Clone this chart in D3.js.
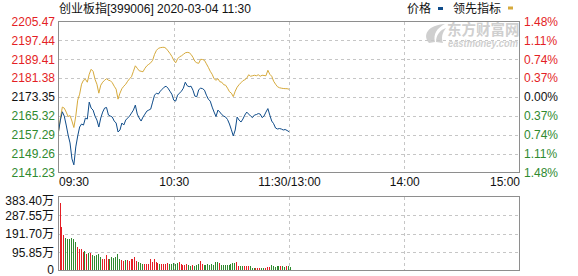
<!DOCTYPE html>
<html>
<head>
<meta charset="utf-8">
<script src="https://cdn.jsdelivr.net/npm/d3@7"></script>
<style>
  body { margin: 0; background: #fff; }
  svg text { font-family: "Liberation Sans", Arial, "Noto Sans CJK SC", sans-serif; font-size: 12px; }
</style>
</head>
<body>
<svg id="chart" width="578" height="276"></svg>
<script>
// 创业板指 intraday, morning session 2020-03-04
var title = "创业板指[399006] 2020-03-04 11:30";
var prevClose = 2173.35;
var priceTicks = [2205.47, 2197.44, 2189.41, 2181.38, 2173.35, 2165.32, 2157.29, 2149.26, 2141.23];
var pctTicks = [1.48, 1.11, 0.74, 0.37, 0, -0.37, -0.74, -1.11, -1.48];
var volTicks = [383.40, 287.55, 191.70, 95.85, 0];
var timeTicks = [0, 60, 120, 180, 240];
var timeLabels = ["09:30", "10:30", "11:30/13:00", "14:00", "15:00"];

var price = [
  2158.59, 2163.54, 2167.06, 2165.24, 2161.43, 2157.19, 2153.80, 2147.03, 2144.49, 2152.11,
  2156.77, 2160.58, 2161.85, 2161.40, 2164.39, 2163.97, 2171.17, 2168.63, 2167.78, 2165.24,
  2163.54, 2160.58, 2164.39, 2166.93, 2168.63, 2168.90, 2165.66, 2165.24, 2164.81, 2163.12,
  2162.27, 2158.46, 2159.31, 2162.27, 2161.43, 2163.54, 2164.39, 2165.24, 2166.51, 2167.78,
  2169.90, 2166.08, 2164.39, 2163.12, 2164.81, 2166.08, 2167.35, 2167.78, 2168.20, 2171.17,
  2174.13, 2174.98, 2174.60, 2175.82, 2176.67, 2177.52, 2177.94, 2177.10, 2175.82, 2174.55,
  2172.01, 2171.60, 2174.13, 2174.98, 2175.82, 2177.10, 2179.64, 2178.15, 2177.73, 2177.94,
  2176.25, 2173.71, 2173.50, 2176.46, 2177.10, 2176.90, 2176.25, 2174.13, 2172.44, 2171.59,
  2169.05, 2166.93, 2165.03, 2167.78, 2166.93, 2165.87, 2165.24, 2164.81, 2163.76, 2161.85,
  2159.40, 2156.77, 2159.31, 2164.81, 2163.54, 2162.70, 2163.97, 2165.66, 2166.93, 2166.08,
  2165.24, 2164.60, 2165.66, 2165.87, 2166.30, 2166.08, 2164.60, 2165.24, 2166.93, 2168.42,
  2165.66, 2163.12, 2162.00, 2160.15, 2159.73, 2159.94, 2159.73, 2159.31, 2159.52, 2159.10,
  2158.59
];

var leading = [
  2158.46, 2164.39, 2169.05, 2168.63, 2166.93, 2165.03, 2165.45, 2163.12, 2160.37, 2165.24,
  2172.01, 2174.55, 2178.79, 2180.48, 2180.91, 2179.64, 2183.02, 2185.14, 2184.29, 2180.91,
  2178.79, 2174.98, 2178.37, 2179.64, 2180.48, 2181.12, 2180.48, 2180.27, 2179.42, 2177.94,
  2176.67, 2172.44, 2174.98, 2176.88, 2177.94, 2178.79, 2180.06, 2181.12, 2181.97, 2184.29,
  2186.62, 2185.57, 2184.51, 2184.29, 2184.10, 2185.57, 2186.62, 2187.26, 2187.89, 2188.95,
  2191.49, 2193.19, 2194.04, 2194.33, 2194.46, 2194.50, 2194.04, 2192.98, 2191.92, 2190.65,
  2188.95, 2187.89, 2189.59, 2190.44, 2190.86, 2191.49, 2192.13, 2192.34, 2192.21, 2191.49,
  2190.22, 2188.53, 2187.89, 2187.68, 2189.38, 2189.30, 2188.95, 2187.47, 2185.99, 2184.29,
  2183.02, 2181.12, 2180.48, 2181.12, 2179.85, 2179.64, 2178.58, 2178.37, 2177.10, 2175.61,
  2174.98, 2173.50, 2175.82, 2177.52, 2178.58, 2179.42, 2180.27, 2180.70, 2181.33, 2182.81,
  2182.18, 2182.39, 2182.60, 2182.39, 2182.81, 2182.18, 2182.60, 2182.50, 2182.39, 2184.72,
  2183.02, 2182.18, 2180.06, 2178.79, 2177.73, 2177.31, 2177.10, 2176.97, 2176.90, 2176.88,
  2176.67
];

// 成交量, 万
var volume = [
  352, 227, 182, 166, 161, 161, 166, 161, 149, 123,
  109, 109, 97, 100, 83, 92, 89, 80, 74, 80,
  87, 72, 62, 62, 78, 62, 62, 70, 66, 72,
  83, 60, 52, 48, 52, 52, 48, 57, 57, 72,
  48, 45, 38, 36, 36, 36, 36, 57, 45, 57,
  45, 40, 36, 36, 36, 36, 38, 36, 36, 38,
  35, 40, 43, 35, 30, 26, 35, 30, 23, 26,
  24, 30, 35, 47, 35, 30, 28, 35, 30, 35,
  30, 42, 42, 40, 26, 26, 26, 26, 30, 35,
  37, 40, 42, 23, 21, 21, 21, 21, 21, 23,
  12, 12, 14, 14, 12, 12, 14, 14, 17, 17,
  26, 21, 17, 21, 24, 21, 21, 17, 21, 21,
  17
];

var red = "#e41e25", green = "#2f8a2f", black = "#111",
    blue = "#0f4c8a", gold = "#d6aa3c",
    border = "#8e8e8e", grid = "#c6c6c6";

var plotL = 58.5, plotR = 519.5,
    plotT = 21.5, plotB = 172.5,
    volT = 196.5, volB = 270.5;

var svg = d3.select("#chart");

var x = d3.scaleLinear().domain([0, 240]).range([plotL, plotR]);
var y = d3.scaleLinear().domain([priceTicks[8], priceTicks[0]]).range([plotB, plotT]);
var yPct = d3.scaleLinear().domain([-1.48, 1.48]).range([plotB, plotT]);
var yVol = d3.scaleLinear().domain([0, volTicks[0]]).range([volB, volT]);

function colorOf(d, mid) { return d > mid ? red : d < mid ? green : black; }

// watermark
var wm = svg.append("g").attr("fill", "#cfcfcf");
wm.append("path")
    .attr("d", "M429,43 C422,35 428,25 445,24 C437,28 433,34 435,42 Z M436,42 C436,35 440,30 446,28 C442,33 441,38 443,43 Z");
wm.append("text").attr("x", 447).attr("y", 35)
    .style("font-size", "14.5px").style("font-weight", "bold")
    .text("东方财富网");
wm.append("text").attr("x", 448).attr("y", 47)
    .attr("textLength", 70).attr("lengthAdjust", "spacingAndGlyphs")
    .style("font-size", "10px").style("font-weight", "bold").style("font-style", "italic")
    .text("eastmoney.com");

// grid
var g = svg.append("g")
    .attr("stroke", grid).attr("stroke-dasharray", "3,3").attr("shape-rendering", "crispEdges");
g.selectAll(".hp").data(priceTicks.slice(1, -1)).join("line")
    .attr("x1", plotL).attr("x2", plotR)
    .attr("y1", d => Math.round(y(d)) + 0.5).attr("y2", d => Math.round(y(d)) + 0.5);
g.selectAll(".hv").data(volTicks.slice(1, -1)).join("line")
    .attr("x1", plotL).attr("x2", plotR)
    .attr("y1", d => Math.round(yVol(d)) + 0.5).attr("y2", d => Math.round(yVol(d)) + 0.5);
timeTicks.slice(1, -1).forEach(function(t) {
  var px = Math.round(x(t)) + 0.5;
  g.append("line").attr("x1", px).attr("x2", px).attr("y1", plotT).attr("y2", plotB);
  g.append("line").attr("x1", px).attr("x2", px).attr("y1", volT).attr("y2", volB);
});

// price lines
var line = d3.line().x((d, i) => x(i)).y(d => y(d));
svg.append("path").datum(leading)
    .attr("fill", "none").attr("stroke", gold).attr("stroke-width", 1)
    .attr("d", line);
svg.append("path").datum(price)
    .attr("fill", "none").attr("stroke", blue).attr("stroke-width", 1)
    .attr("d", line);

// volume bars, coloured by minute change
svg.append("g").attr("shape-rendering", "crispEdges")
  .selectAll("rect").data(volume).join("rect")
    .attr("x", (d, i) => Math.round(x(i)) + 1)
    .attr("width", 1)
    .attr("y", d => yVol(d))
    .attr("height", d => volB - yVol(d))
    .attr("fill", (d, i) => (i === 0 || price[i] >= price[i - 1]) ? red : green);

// frames
svg.append("rect").attr("x", plotL).attr("y", plotT)
    .attr("width", plotR - plotL).attr("height", plotB - plotT)
    .attr("fill", "none").attr("stroke", border).attr("shape-rendering", "crispEdges");
svg.append("rect").attr("x", plotL).attr("y", volT)
    .attr("width", plotR - plotL).attr("height", volB - volT)
    .attr("fill", "none").attr("stroke", border).attr("shape-rendering", "crispEdges");

// axes
var ay = svg.append("g").attr("transform", "translate(55,0)")
    .call(d3.axisLeft(y).tickValues(priceTicks).tickSize(0).tickPadding(0).tickFormat(d3.format(".2f")));
ay.select(".domain").remove();
ay.selectAll("text").attr("fill", d => colorOf(d, prevClose));

var ap = svg.append("g").attr("transform", "translate(524,0)")
    .call(d3.axisRight(yPct).tickValues(pctTicks).tickSize(0).tickPadding(0)
      .tickFormat(d => Math.abs(d).toFixed(2) + "%"));
ap.select(".domain").remove();
ap.selectAll("text").attr("fill", d => colorOf(d, 0));

var av = svg.append("g").attr("transform", "translate(54,0)")
    .call(d3.axisLeft(yVol).tickValues(volTicks).tickSize(0).tickPadding(0)
      .tickFormat(d => d === 0 ? "0" : d.toFixed(2) + "万"));
av.select(".domain").remove();
av.selectAll("text").attr("fill", black)
    .attr("y", d => d === volTicks[0] ? 4.5 : d === 0 ? -0.8 : 0.5);

var ax = svg.append("g").attr("transform", "translate(0," + plotB + ")")
    .call(d3.axisBottom(x).tickValues(timeTicks).tickSize(0).tickPadding(5)
      .tickFormat((d, i) => timeLabels[i]));
ax.select(".domain").remove();
ax.selectAll("text").attr("fill", black)
    .attr("text-anchor", (d, i) => i === 0 ? "start" : i === timeTicks.length - 1 ? "end" : "middle");

// title + legend
svg.append("text").attr("x", 59).attr("y", 12.5).attr("fill", black).text(title);
svg.append("text").attr("x", 407).attr("y", 13).attr("fill", black).text("价格");
svg.append("rect").attr("x", 438).attr("y", 7).attr("width", 5).attr("height", 3).attr("fill", blue);
svg.append("text").attr("x", 453).attr("y", 13).attr("fill", black).text("领先指标");
svg.append("rect").attr("x", 508).attr("y", 6.5).attr("width", 5).attr("height", 3).attr("fill", gold);
</script>
</body>
</html>
